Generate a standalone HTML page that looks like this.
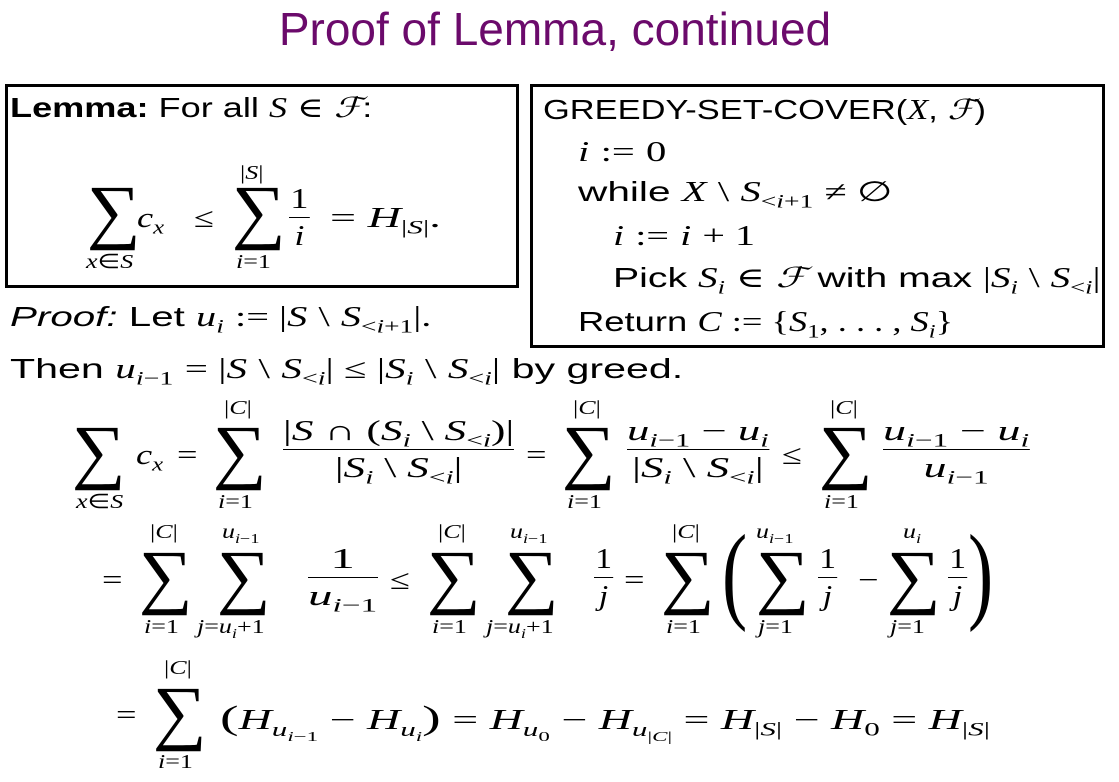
<!DOCTYPE html>
<html><head><meta charset="utf-8">
<style>
body{margin:0;width:1119px;height:782px;background:#fff;position:relative;overflow:hidden;font-family:"Liberation Sans",sans-serif;color:#000}
.t{position:absolute;white-space:nowrap;font-size:28px;line-height:1;transform-origin:0 50%}
.m{font-family:"Liberation Serif","DejaVu Serif",serif;}
i{font-family:"Liberation Serif","DejaVu Serif",serif;font-style:italic}
.s{font-size:19px}
.ss{font-size:14px}
sub,sup{line-height:0}
.S{position:absolute;font-family:"Liberation Serif","DejaVu Serif",serif;font-size:72px;line-height:1;transform:scaleX(1.05)}
.lim{position:absolute;font-size:20px;line-height:1;white-space:nowrap;font-family:"Liberation Serif",serif;transform-origin:0 50%;transform:scaleX(1.3)}
.box{position:absolute;border:3px solid #000;box-sizing:border-box}
.fr{position:absolute;display:flex;flex-direction:column;align-items:center;font-family:"Liberation Serif",serif;font-size:28px;line-height:1.05;white-space:nowrap;transform-origin:0 50%}
.fr .l{align-self:stretch;border-top:1.5px solid #000;margin:3px 0 4px}
</style></head><body>
<div class="t" style="left:0;width:1110px;text-align:center;top:6px;font-size:46px;color:#6b0a6b;transform:none">Proof of Lemma, continued</div>

<div class="box" style="left:5px;top:84px;width:514px;height:204px"></div>
<div class="box" style="left:530px;top:84px;width:575px;height:264px"></div>

<div class="t" style="left:10px;top:94px;transform:scaleX(1.29)"><b>Lemma:</b> For all <i>S</i> <span class="m">∈</span> <i>ℱ</i>:</div>
<div class="S" style="left:88px;top:175px">∑</div>
<div class="lim" style="left:86px;top:252px"><i>x</i>∈<i>S</i></div>
<div class="t m" style="left:137px;top:205px;transform:scaleX(1.3)"><i>c<sub class="s">x</sub></i></div>
<div class="t m" style="left:194px;top:205px;transform:scaleX(1.3)">≤</div>
<div class="S" style="left:233px;top:175px">∑</div>
<div class="lim" style="left:240px;top:163px">|<i>S</i>|</div>
<div class="lim" style="left:236px;top:252px"><i>i</i>=1</div>
<div class="fr" style="left:289px;top:185px;transform:scaleX(1.3)"><span>1</span><span class="l" style="width:16px"></span><span><i>i</i></span></div>
<div class="t m" style="left:330px;top:205px;transform:scaleX(1.65)">= <i>H</i><sub class="s">|<i>S</i>|</sub>.</div>

<div class="t" style="left:543px;top:96px;transform:scaleX(1.23)">GREEDY-SET-COVER(<i>X</i>, <i>ℱ</i>)</div>
<div class="t" style="left:578px;top:138px;transform:scaleX(1.45)"><i>i</i> <span class="m">:=</span> <span class="m">0</span></div>
<div class="t" style="left:578px;top:178px;transform:scaleX(1.45)">while <i>X</i> <span class="m">\</span> <i>S</i><sub class="s m">&lt;<i>i</i>+1</sub> <span class="m">≠ ∅</span></div>
<div class="t" style="left:613px;top:222px;transform:scaleX(1.43)"><i>i</i> <span class="m">:=</span> <i>i</i> <span class="m">+ 1</span></div>
<div class="t" style="left:613px;top:264px;transform:scaleX(1.4)">Pick <i>S<sub class="s">i</sub></i> <span class="m">∈</span> <i>ℱ</i> with max <span class="m">|</span><i>S<sub class="s">i</sub></i> <span class="m">\</span> <i>S</i><sub class="s m">&lt;<i>i</i></sub><span class="m">|</span></div>
<div class="t" style="left:578px;top:308px;transform:scaleX(1.3)">Return <i>C</i> <span class="m">:= {</span><i>S</i><sub class="s m">1</sub><span class="m">, . . . , </span><i>S<sub class="s">i</sub></i><span class="m">}</span></div>

<div class="t" style="left:10px;top:303px;transform:scaleX(1.44)"><i style="font-family:'Liberation Sans',sans-serif">Proof:</i> Let <i>u<sub class="s">i</sub></i> <span class="m">:= |</span><i>S</i> <span class="m">\</span> <i>S</i><sub class="s m">&lt;<i>i</i>+1</sub><span class="m">|.</span></div>
<div class="t" style="left:10px;top:355px;transform:scaleX(1.47)">Then <i>u</i><sub class="s m"><i>i</i>−1</sub> <span class="m">= |</span><i>S</i> <span class="m">\</span> <i>S</i><sub class="s m">&lt;<i>i</i></sub><span class="m">| ≤ |</span><i>S<sub class="s">i</sub></i> <span class="m">\</span> <i>S</i><sub class="s m">&lt;<i>i</i></sub><span class="m">|</span> by greed.</div>

<!-- row 1 -->
<div class="S" style="left:73px;top:415px">∑</div>
<div class="lim" style="left:76px;top:492px"><i>x</i>∈<i>S</i></div>
<div class="t m" style="left:136px;top:442px;transform:scaleX(1.3)"><i>c<sub class="s">x</sub></i></div>
<div class="t m" style="left:177px;top:442px;transform:scaleX(1.3)">=</div>
<div class="S" style="left:214px;top:415px">∑</div>
<div class="lim" style="left:224px;top:398px">|<i>C</i>|</div>
<div class="lim" style="left:218px;top:492px"><i>i</i>=1</div>
<div class="fr" style="left:283px;top:417px;transform:scaleX(1.55)"><span>|<i>S</i> ∩ (<i>S<sub class="s">i</sub></i> \ <i>S</i><sub class="s">&lt;<i>i</i></sub>)|</span><span class="l"></span><span>|<i>S<sub class="s">i</sub></i> \ <i>S</i><sub class="s">&lt;<i>i</i></sub>|</span></div>
<div class="t m" style="left:526px;top:442px;transform:scaleX(1.3)">=</div>
<div class="S" style="left:563px;top:415px">∑</div>
<div class="lim" style="left:573px;top:398px">|<i>C</i>|</div>
<div class="lim" style="left:567px;top:492px"><i>i</i>=1</div>
<div class="fr" style="left:627px;top:417px;transform:scaleX(1.6)"><span><i>u</i><sub class="s"><i>i</i>−1</sub> − <i>u<sub class="s">i</sub></i></span><span class="l"></span><span>|<i>S<sub class="s">i</sub></i> \ <i>S</i><sub class="s">&lt;<i>i</i></sub>|</span></div>
<div class="t m" style="left:782px;top:442px;transform:scaleX(1.3)">≤</div>
<div class="S" style="left:820px;top:415px">∑</div>
<div class="lim" style="left:830px;top:398px">|<i>C</i>|</div>
<div class="lim" style="left:824px;top:492px"><i>i</i>=1</div>
<div class="fr" style="left:883px;top:417px;transform:scaleX(1.65)"><span><i>u</i><sub class="s"><i>i</i>−1</sub> − <i>u<sub class="s">i</sub></i></span><span class="l"></span><span><i>u</i><sub class="s"><i>i</i>−1</sub></span></div>

<!-- row 2 -->
<div class="t m" style="left:102px;top:567px;transform:scaleX(1.3)">=</div>
<div class="S" style="left:140px;top:540px">∑</div>
<div class="lim" style="left:150px;top:522px">|<i>C</i>|</div>
<div class="lim" style="left:144px;top:617px"><i>i</i>=1</div>
<div class="S" style="left:218px;top:540px">∑</div>
<div class="lim" style="left:222px;top:522px"><i>u</i><sub class="ss"><i>i</i>−1</sub></div>
<div class="lim" style="left:197px;top:617px"><i>j</i>=<i>u<sub class="ss">i</sub></i>+1</div>
<div class="fr" style="left:308px;top:545px;transform:scaleX(1.75)"><span>1</span><span class="l"></span><span><i>u</i><sub class="s"><i>i</i>−1</sub></span></div>
<div class="t m" style="left:390px;top:567px;transform:scaleX(1.3)">≤</div>
<div class="S" style="left:428px;top:540px">∑</div>
<div class="lim" style="left:438px;top:522px">|<i>C</i>|</div>
<div class="lim" style="left:432px;top:617px"><i>i</i>=1</div>
<div class="S" style="left:506px;top:540px">∑</div>
<div class="lim" style="left:510px;top:522px"><i>u</i><sub class="ss"><i>i</i>−1</sub></div>
<div class="lim" style="left:486px;top:617px"><i>j</i>=<i>u<sub class="ss">i</sub></i>+1</div>
<div class="fr" style="left:594px;top:545px;transform:scaleX(1.2)"><span>1</span><span class="l" style="width:16px"></span><span><i>j</i></span></div>
<div class="t m" style="left:624px;top:567px;transform:scaleX(1.3)">=</div>
<div class="S" style="left:662px;top:540px">∑</div>
<div class="lim" style="left:672px;top:522px">|<i>C</i>|</div>
<div class="lim" style="left:666px;top:617px"><i>i</i>=1</div>
<div class="t m" style="left:722px;top:520px;font-size:108px;transform:scaleX(0.7)">(</div>
<div class="S" style="left:757px;top:540px">∑</div>
<div class="lim" style="left:756px;top:522px"><i>u</i><sub class="ss"><i>i</i>−1</sub></div>
<div class="lim" style="left:758px;top:617px"><i>j</i>=1</div>
<div class="fr" style="left:818px;top:545px;transform:scaleX(1.2)"><span>1</span><span class="l" style="width:16px"></span><span><i>j</i></span></div>
<div class="t m" style="left:858px;top:567px;transform:scaleX(1.3)">−</div>
<div class="S" style="left:888px;top:540px">∑</div>
<div class="lim" style="left:903px;top:522px"><i>u<sub class="ss">i</sub></i></div>
<div class="lim" style="left:890px;top:617px"><i>j</i>=1</div>
<div class="fr" style="left:948px;top:545px;transform:scaleX(1.2)"><span>1</span><span class="l" style="width:16px"></span><span><i>j</i></span></div>
<div class="t m" style="left:968px;top:520px;font-size:108px;transform:scaleX(0.7)">)</div>

<!-- row 3 -->
<div class="t m" style="left:116px;top:702px;transform:scaleX(1.3)">=</div>
<div class="S" style="left:154px;top:676px">∑</div>
<div class="lim" style="left:164px;top:658px">|<i>C</i>|</div>
<div class="lim" style="left:158px;top:752px"><i>i</i>=1</div>
<div class="t m" style="left:220px;top:702px;transform:scaleX(1.64)"><span style="font-size:34px">(</span><i>H</i><sub class="s"><i>u</i><sub class="ss"><i>i</i>−1</sub></sub> − <i>H</i><sub class="s"><i>u<sub class="ss">i</sub></i></sub><span style="font-size:34px">)</span> = <i>H</i><sub class="s"><i>u</i><sub class="ss">0</sub></sub> − <i>H</i><sub class="s"><i>u</i><sub class="ss">|<i>C</i>|</sub></sub> = <i>H</i><sub class="s">|<i>S</i>|</sub> − <i>H</i><sub class="s">0</sub> = <i>H</i><sub class="s">|<i>S</i>|</sub></div>
</body></html>
